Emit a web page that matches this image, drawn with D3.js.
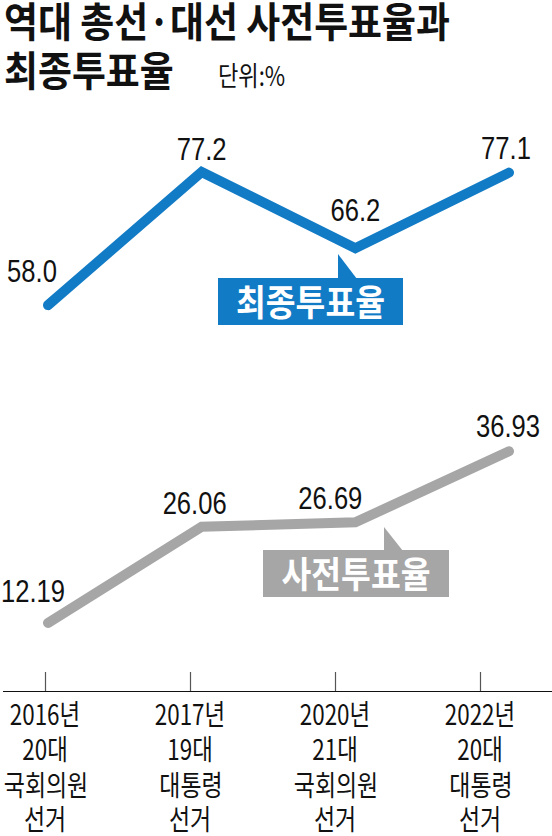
<!DOCTYPE html>
<html>
<head>
<meta charset="utf-8">
<script src="https://cdn.jsdelivr.net/npm/d3@7"></script>
<style>
  body { margin: 0; background: #fff; }
  svg { display: block; }
</style>
</head>
<body>
<div id="chart-area"></div>
<script>
// chart data
let years = ["2016년", "2017년", "2020년", "2022년"];
let terms = ["20대", "19대", "21대", "20대"];
let kinds = ["국회의원", "대통령", "국회의원", "대통령"];
let finalTurnout = [58.0, 77.2, 66.2, 77.1];
let earlyTurnout = [12.19, 26.06, 26.69, 36.93];

// label nudges (layout only)
let finalOffset = [[-16, -23], [0, -12], [0, -27], [-3, -14]];
let earlyOffset = [[-15, -21], [-7, -13], [-25, -13], [-1, -14]];

let width = 552, height = 836;
let blue = "#127bc6", gray = "#a6a6a6";
let kr = "'Noto Sans CJK KR', 'Noto Sans', sans-serif";
let latin = "'Liberation Sans', Arial, sans-serif";

let svg = d3.select("#chart-area").append("svg")
    .attr("width", width)
    .attr("height", height);

// scales - points sit a bit off the axis ticks in the original
let x = d3.scalePoint().domain(years).range([48, 509]);
let xTick = d3.scalePoint().domain(years).range([45, 480]);
let y = d3.scaleLinear().domain([0, 80]).range([707.5, 152.5]);

// text helper with horizontal squeeze (condensed look)
function label(g, str, tx, ty, size, opts) {
    opts = opts || {};
    return g.append("text")
        .attr("transform", "translate(" + tx + "," + ty + ") scale(" + (opts.sx || 1) + ",1)")
        .attr("text-anchor", opts.anchor || "start")
        .attr("font-family", opts.font || kr)
        .attr("font-weight", opts.weight || 400)
        .attr("font-size", size)
        .attr("fill", opts.fill || "#111")
        .text(str);
}

// title
label(svg, "역대 총선·대선 사전투표율과", 4, 37, 41, {weight: 700, sx: 0.9});
label(svg, "최종투표율", 4, 86, 41, {weight: 700, sx: 0.9});
label(svg, "단위:%", 218, 86, 27, {sx: 0.82});

// x axis
svg.append("line")
    .attr("x1", 3).attr("x2", width)
    .attr("y1", 691.5).attr("y2", 691.5)
    .attr("stroke", "#111").attr("stroke-width", 1.2);

let xAxis = svg.append("g")
    .attr("transform", "translate(0,691)")
    .call(d3.axisBottom(xTick).tickSize(-19).tickSizeOuter(0).tickFormat(""));
xAxis.select(".domain").remove();
xAxis.selectAll(".tick line").attr("stroke", "#555").attr("stroke-width", 1.2);

years.forEach((yr, i) => {
    let cx = xTick(yr);
    label(svg, yr, cx, 725, 28, {anchor: "middle", sx: 0.8});
    label(svg, terms[i], cx, 760, 28, {anchor: "middle", sx: 0.8});
    label(svg, kinds[i], cx + 1, 796, 28, {anchor: "middle", sx: 0.82});
    label(svg, "선거", cx, 830, 28, {anchor: "middle", sx: 0.82});
});

// lines
let line = d3.line()
    .x((d, i) => x(years[i]))
    .y(d => y(d));

svg.append("path")
    .datum(finalTurnout)
    .attr("d", line)
    .attr("fill", "none")
    .attr("stroke", blue)
    .attr("stroke-width", 10)
    .attr("stroke-linecap", "round");

svg.append("path")
    .datum(earlyTurnout)
    .attr("d", line)
    .attr("fill", "none")
    .attr("stroke", gray)
    .attr("stroke-width", 10)
    .attr("stroke-linecap", "round");

// value labels
finalTurnout.forEach((v, i) => {
    label(svg, v.toFixed(1), x(years[i]) + finalOffset[i][0], y(v) + finalOffset[i][1], 32,
        {anchor: "middle", font: latin, sx: 0.8});
});
earlyTurnout.forEach((v, i) => {
    label(svg, v.toFixed(2), x(years[i]) + earlyOffset[i][0], y(v) + earlyOffset[i][1], 32,
        {anchor: "middle", font: latin, sx: 0.8});
});

// callout boxes
function callout(text, box, tip, fill) {
    let g = svg.append("g");
    g.append("rect")
        .attr("x", box[0]).attr("y", box[1])
        .attr("width", box[2]).attr("height", box[3])
        .attr("fill", fill);
    g.append("polygon")
        .attr("points", [[tip[0], tip[1]], [tip[0], box[1] + 1], [tip[0] + 19, box[1] + 1]].join(" "))
        .attr("fill", fill);
    label(g, text, box[0] + box[2] / 2, box[1] + box[3] - 9, 36,
        {anchor: "middle", weight: 700, fill: "#fff", sx: 0.9});
}

callout("최종투표율", [218, 278, 185, 47], [338, 254], blue);
callout("사전투표율", [263, 550, 186, 47], [384, 527], gray);
</script>
</body>
</html>
